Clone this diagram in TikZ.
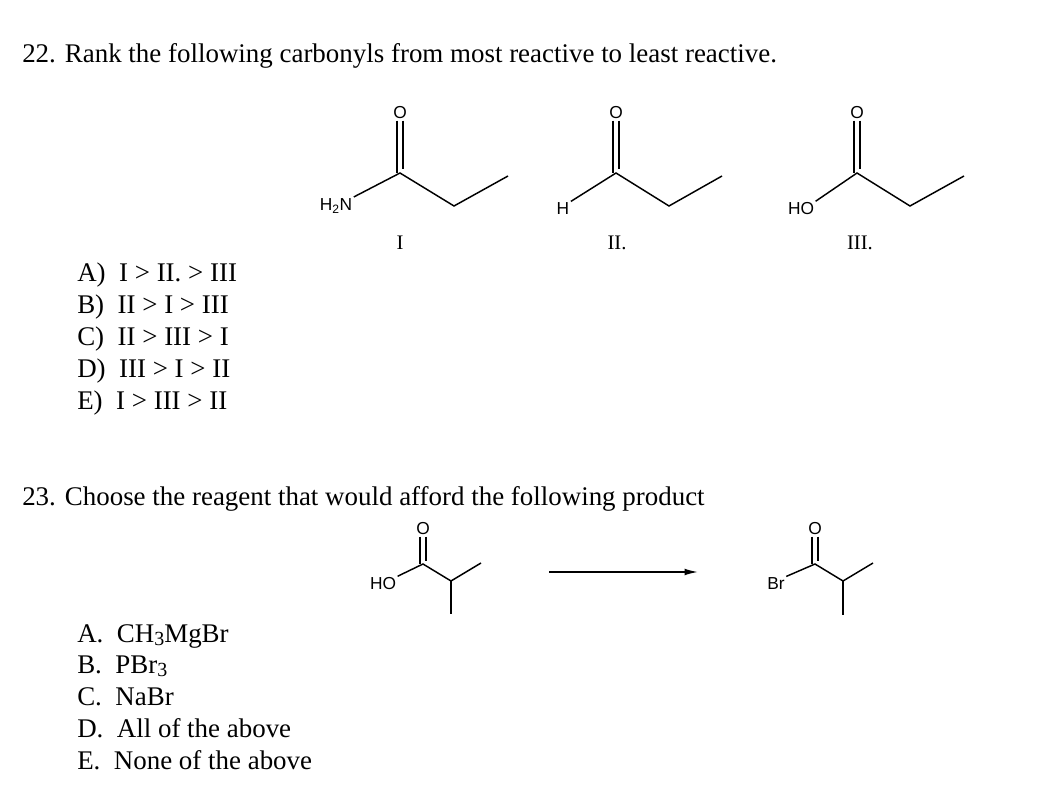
\documentclass[tikz,border=0pt]{standalone}
\usepackage{fontspec}
\setmainfont{Liberation Serif}
\newfontfamily\chemf{Liberation Sans}
\usetikzlibrary{arrows.meta}
\newcommand{\sbs}[1]{\raisebox{-0.25ex}{\fontsize{15}{15}\selectfont #1}}
\begin{document}
\begin{tikzpicture}[x=0.75pt,y=-0.75pt,
  txt/.style={anchor=base west,inner sep=0,font=\fontsize{20.2}{23}\selectfont},
  atom/.style={inner sep=1pt,font=\chemf\fontsize{13}{14}\selectfont},
  lbl/.style={inner sep=0,font=\fontsize{15.5}{17}\selectfont},
  bd/.style={line width=1.1pt}]
\useasboundingbox (0,0) rectangle (1046,812);
\node[txt] (t22) at (22,63) {22. Rank the following carbonyls from most reactive to least reactive.};
% Molecule I
\node[atom] (o1) at (400,113) {O};
\coordinate (c1) at (400,173);
\node[atom] (n1) at (336,206) {H\textsubscript{2}N};
\coordinate (m1) at (454,206);
\coordinate (e1) at (508,176);
\draw[bd] (n1.north east) -- (c1) -- (m1) -- (e1);
\draw[bd] ([xshift=-2.2pt]o1.south) -- ([xshift=-2.2pt]c1);
\draw[bd] ([xshift=2.2pt]o1.south) -- ([xshift=2.2pt]c1 |- 0,169);
\node[lbl] (l1) at (400,243) {I};
% Molecule II
\node[atom] (o2) at (616,113) {O};
\coordinate (c2) at (616,173);
\node[atom] (h2) at (563,209) {H};
\coordinate (m2) at (669,206);
\coordinate (e2) at (722,176);
\draw[bd] (h2.north east) -- (c2) -- (m2) -- (e2);
\draw[bd] ([xshift=-2.2pt]o2.south) -- ([xshift=-2.2pt]c2);
\draw[bd] ([xshift=2.2pt]o2.south) -- ([xshift=2.2pt]c2 |- 0,169);
\node[lbl] (l2) at (617,243) {II.};
% Molecule III
\node[atom] (o3) at (857,113) {O};
\coordinate (c3) at (857,173);
\node[atom] (h3) at (801,209) {HO};
\coordinate (m3) at (910,206);
\coordinate (e3) at (964,176);
\draw[bd] (h3.north east) -- (c3) -- (m3) -- (e3);
\draw[bd] ([xshift=-2.2pt]o3.south) -- ([xshift=-2.2pt]c3);
\draw[bd] ([xshift=2.2pt]o3.south) -- ([xshift=2.2pt]c3 |- 0,169);
\node[lbl] (l3) at (860,243) {III.};
% answers 22
\node[txt] (a1) at (77,282) {A)\ \ I > II. > III};
\node[txt] (a2) at (77,314) {B)\ \ II > I > III};
\node[txt] (a3) at (77,346) {C)\ \ II > III > I};
\node[txt] (a4) at (77,378) {D)\ \ III > I > II};
\node[txt] (a5) at (77,410) {E)\ \ I > III > II};
% 23
\node[txt] (t23) at (22,506) {23. Choose the reagent that would afford the following product};
% reactant
\node[atom] (o4) at (423,529) {O};
\coordinate (c4) at (423,564);
\node[atom] (h4) at (383,584) {HO};
\coordinate (m4) at (451,581);
\coordinate (e4) at (481,563);
\coordinate (d4) at (451,614);
\draw[bd] (h4.north east) -- (c4) -- (m4) -- (e4);
\draw[bd] (m4) -- (d4);
\draw[bd] ([xshift=-2.2pt]o4.south) -- ([xshift=-2.2pt]c4);
\draw[bd] ([xshift=2.2pt]o4.south) -- ([xshift=2.2pt]c4 |- 0,561);
% arrow
\coordinate (ar1) at (549,572);
\coordinate (ar2) at (698,572);
\draw[bd,-{Latex[length=10pt,width=5pt]}] (ar1) -- (ar2);
% product
\node[atom] (o5) at (815,529) {O};
\coordinate (c5) at (815,564);
\node[atom] (b5) at (776,584) {Br};
\coordinate (m5) at (843,581);
\coordinate (e5) at (873,563);
\coordinate (d5) at (843,615);
\draw[bd] (b5.north east) -- (c5) -- (m5) -- (e5);
\draw[bd] (m5) -- (d5);
\draw[bd] ([xshift=-2.2pt]o5.south) -- ([xshift=-2.2pt]c5);
\draw[bd] ([xshift=2.2pt]o5.south) -- ([xshift=2.2pt]c5 |- 0,561);
% answers 23
\node[txt] (b1) at (77,642) {A.\ \ CH\sbs{3}MgBr};
\node[txt] (b2) at (77,673) {B.\ \ PBr\sbs{3}};
\node[txt] (b3) at (77,705) {C.\ \ NaBr};
\node[txt] (b4) at (77,737) {D.\ \ All of the above};
\node[txt] (b5x) at (77,769) {E.\ \ None of the above};
\end{tikzpicture}
\end{document}
